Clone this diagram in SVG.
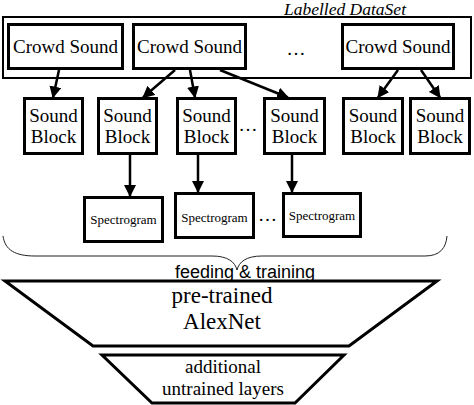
<svg xmlns="http://www.w3.org/2000/svg" width="474" height="405" viewBox="0 0 474 405">
<style>
.box{fill:#fff;stroke:#000;stroke-width:3}
.outer{fill:#fff;stroke:#000;stroke-width:2}
.t{font-family:"Liberation Serif","Times New Roman",serif;fill:#000;text-anchor:middle}
.cs{font-size:19px}
.sb{font-size:19px}
.sp{font-size:13px}
.conn line{stroke:#000;stroke-width:2.5}
</style>
<defs>
<marker id="ah" markerUnits="userSpaceOnUse" markerWidth="12" markerHeight="12" refX="11" refY="6" orient="auto">
<path d="M0,0 L12,6 L0,12 z" fill="#000"/>
</marker>
</defs>
<rect width="474" height="405" fill="#fff"/>
<g id="dataset">
<rect class="outer" x="3" y="17" width="468" height="61"/>
<text class="t" x="345" y="14.5" font-size="17.5" font-style="italic">Labelled DataSet</text>
<text class="t" x="296" y="55" font-size="19">…</text>
</g>
<g id="crowd1"><rect class="box" x="8.5" y="24.5" width="114" height="44"/><text class="t cs" x="65.5" y="53">Crowd Sound</text></g>
<g id="crowd2"><rect class="box" x="133.5" y="24.5" width="112" height="44"/><text class="t cs" x="189.5" y="53">Crowd Sound</text></g>
<g id="crowd3"><rect class="box" x="342.5" y="24.5" width="111" height="44"/><text class="t cs" x="398" y="53">Crowd Sound</text></g>
<g id="block1"><rect class="box" x="24.5" y="98.5" width="58" height="55"/><text class="t sb" x="53.5" y="122">Sound</text><text class="t sb" x="53.5" y="143">Block</text></g>
<g id="block2"><rect class="box" x="98.5" y="98.5" width="58" height="55"/><text class="t sb" x="127.5" y="122">Sound</text><text class="t sb" x="127.5" y="143">Block</text></g>
<g id="block3"><rect class="box" x="177.5" y="98.5" width="58" height="55"/><text class="t sb" x="206.5" y="122">Sound</text><text class="t sb" x="206.5" y="143">Block</text></g>
<text class="t" x="248" y="131" font-size="19">…</text>
<g id="block4"><rect class="box" x="264.5" y="98.5" width="60" height="55"/><text class="t sb" x="294.5" y="122">Sound</text><text class="t sb" x="294.5" y="143">Block</text></g>
<g id="block5"><rect class="box" x="343.5" y="98.5" width="59" height="55"/><text class="t sb" x="373" y="122">Sound</text><text class="t sb" x="373" y="143">Block</text></g>
<g id="block6"><rect class="box" x="410.5" y="98.5" width="59" height="55"/><text class="t sb" x="440" y="122">Sound</text><text class="t sb" x="440" y="143">Block</text></g>
<g id="spec1"><rect class="box" x="84.5" y="197.5" width="78" height="44"/><text class="t sp" x="123.5" y="224">Spectrogram</text></g>
<g id="spec2"><rect class="box" x="175.5" y="193.5" width="78" height="44"/><text class="t sp" x="214.5" y="222">Spectrogram</text></g>
<text class="t" x="267.5" y="221" font-size="19">…</text>
<g id="spec3"><rect class="box" x="283.5" y="193.5" width="77" height="43"/><text class="t sp" x="322" y="220">Spectrogram</text></g>
<g class="conn" id="connectors">
<line x1="59" y1="70" x2="53" y2="97.5" marker-end="url(#ah)"/>
<line x1="175" y1="70" x2="143" y2="97.5" marker-end="url(#ah)"/>
<line x1="190" y1="70" x2="195" y2="97.5" marker-end="url(#ah)"/>
<line x1="220" y1="70" x2="288" y2="97.5" marker-end="url(#ah)"/>
<line x1="398" y1="70" x2="378" y2="97.5" marker-end="url(#ah)"/>
<line x1="421" y1="70" x2="440" y2="97.5" marker-end="url(#ah)"/>
<line x1="130" y1="155" x2="130" y2="196" marker-end="url(#ah)"/>
<line x1="198" y1="155" x2="198" y2="192" marker-end="url(#ah)"/>
<line x1="292" y1="155" x2="292" y2="192" marker-end="url(#ah)"/>
<path d="M3,236 C5,250 15,256 35,256 L212,256 C228,256 235,262 237,270 C239,262 246,256 262,256 L425,256 C440,256 446,248 447,236" fill="none" stroke="#222" stroke-width="1"/>
</g>
<g id="alexnet">
<path d="M5,281 L437,281 L349,346 L93,346 Z" fill="none" stroke="#000" stroke-width="3"/>
<text x="245" y="278" font-family="'Liberation Sans',Arial,sans-serif" font-size="18" text-anchor="middle" fill="#000">feeding &amp; training</text>
<text class="t" x="222" y="303" font-size="23">pre-trained</text>
<text class="t" x="222" y="329" font-size="23">AlexNet</text>
</g>
<g id="additional">
<path d="M102,355 L344,355 L295,403 L152,403 Z" fill="none" stroke="#000" stroke-width="3"/>
<text class="t" x="223" y="373" font-size="19">additional</text>
<text class="t" x="223" y="395" font-size="19">untrained layers</text>
</g>
</svg>
